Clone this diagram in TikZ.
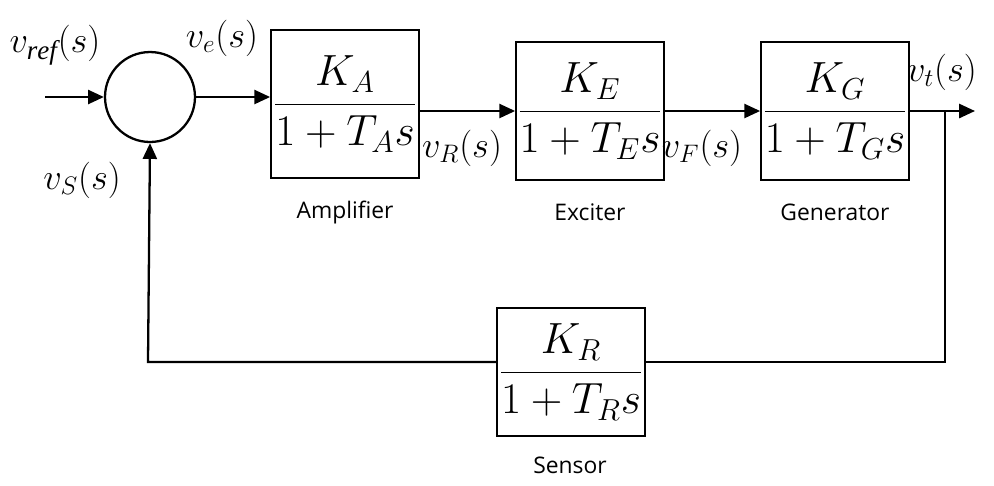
\documentclass[tikz,border=0pt]{standalone}
\usepackage{fontspec}
\setmainfont{Liberation Serif}
\newfontfamily\lblfont{Open Sans}
\usetikzlibrary{arrows.meta}
\newcommand{\mytf}[1]{$\displaystyle\frac{K_{#1}}{1+T_{#1}s}$}
\begin{document}
\begin{tikzpicture}[x=0.02cm,y=-0.02cm,
  blk/.style={draw,line width=1.3pt,minimum width=2.95cm,minimum height=2.76cm,inner sep=0pt,font=\fontsize{24}{26}\selectfont},
  sig/.style={line width=1.3pt,-{Triangle[length=9pt,width=8pt]}},
  ln/.style={line width=1.3pt},
  lbl/.style={font=\lblfont\fontsize{13}{15}\selectfont},
  var/.style={font=\fontsize{22}{24}\selectfont}]
\useasboundingbox (0,0) rectangle (994,485);
\node[draw,circle,line width=1.3pt,minimum size=1.8cm,inner sep=0pt] (sum) at (150,97) {};
\coordinate (in) at (45,97);
\node[blk,minimum height=2.96cm] (amp) at (345,104) {\mytf{A}};
\node[blk] (exc) at (590,111) {\mytf{E}};
\node[blk] (gen) at (835,111) {\mytf{G}};
\node[blk,minimum height=2.55cm] (sen) at (571,372) {\mytf{R}};
\coordinate (out) at (975,111);
\coordinate (br) at (945,111);
\coordinate (c1) at (945,362);
\coordinate (c2) at (148,362);
\draw[sig] (in) -- (sum.west);
\draw[sig] (sum.east) -- (amp.west |- sum.east);
\draw[sig] (amp.east |- exc.west) -- (exc.west);
\draw[sig] (exc.east) -- (gen.west);
\draw[sig] (gen.east) -- (out);
\draw[ln] (br) -- (c1) -- (sen.east |- c1);
\draw[sig] (sen.west |- c2) -- (c2) -- (sum.south);
\node[var] (vref) at (55,45) {$v_{\mathit{ref}}(s)$};
\node[var] (ve) at (222,38) {$v_e(s)$};
\node[var] (vr) at (462,148) {$v_R(s)$};
\node[var] (vf) at (702,148) {$v_F(s)$};
\node[var] (vt) at (942,72) {$v_t(s)$};
\node[var] (vs) at (82,180) {$v_S(s)$};
\node[lbl] (la) at (345,212) {Amplifier};
\node[lbl] (le) at (590,212) {Exciter};
\node[lbl] (lg) at (835,212) {Generator};
\node[lbl] (ls) at (570,465) {Sensor};
\end{tikzpicture}
\end{document}
